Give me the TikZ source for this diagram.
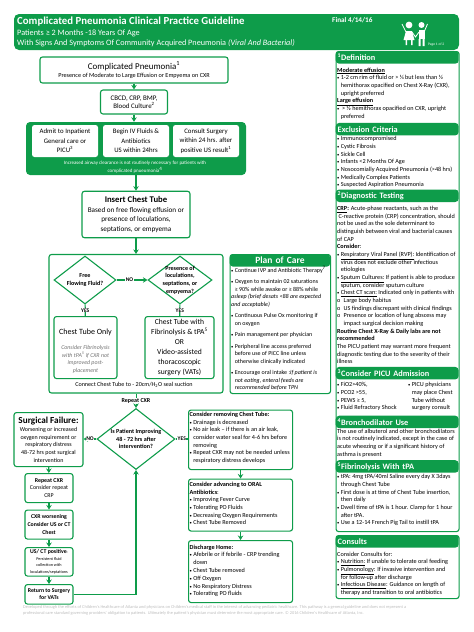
\documentclass[tikz,border=0pt]{standalone}
\usepackage{fontspec}
\setmainfont{Carlito}
\usetikzlibrary{arrows.meta,positioning,shapes.geometric}
\definecolor{cpgreen}{HTML}{0E9C4A}
\definecolor{footgray}{HTML}{BDBDBD}
\newcommand{\fsz}[2]{\fontsize{#1}{#2}\selectfont}
\newcommand{\bu}{\makebox[3.6pt][l]{\fontsize{4.6}{5}\selectfont\textbullet}}
\newcommand{\ci}{\makebox[6.5pt][l]{o}}
\newcommand{\hng}{\hspace*{3.6pt}}
\tikzset{
    flowbox/.style={draw=cpgreen,line width=1.1pt,rounded corners=2.5pt,fill=white,align=center,inner sep=0pt,font=\fsz{6.9}{7.7}},
    whitebox/.style={fill=white,rounded corners=2.5pt,align=center,inner sep=0pt,font=\fsz{6.8}{9.6}},
    listbox/.style={draw=cpgreen,line width=1.1pt,rounded corners=2.5pt,fill=white},
    sechead/.style={fill=cpgreen,rounded corners=3.5pt,text=white,inner sep=0pt,minimum width=123pt,minimum height=12.5pt,text width=119pt,align=left,font=\bfseries\fsz{8.3}{9}},
    mytext/.style={anchor=north west,inner sep=0pt,align=left,font=\fsz{6.2}{7.67}},
    decide/.style={diamond,draw=cpgreen,line width=1.1pt,inner sep=0pt},
    decidetxt/.style={inner sep=0pt,align=center,font=\bfseries\fsz{6.1}{7.6}},
    myarrow/.style={draw=cpgreen,line width=1.2pt,-{Stealth[length=4.5pt,width=5.5pt]}},
    myline/.style={draw=cpgreen,line width=1.1pt},
    answer/.style={fill=white,inner sep=0.4pt,font=\bfseries\fsz{5.6}{7}}
}
\begin{document}
\begin{tikzpicture}[x=1pt,y=-1pt]
  \useasboundingbox (0,0) rectangle (474,632);

  % header band
  \fill[cpgreen,rounded corners=5pt] (14,14) rectangle (459,50);
  \node[anchor=west,inner sep=0pt,text=white,font=\bfseries\fsz{10.8}{12}] (title) at (17,21.5) {Complicated Pneumonia Clinical Practice Guideline};
  \node[anchor=west,inner sep=0pt,text=white,font=\fsz{8.2}{9}] (age) at (17,33) {Patients ≥ 2 Months -18 Years Of Age};
  \node[anchor=west,inner sep=0pt,text=white,font=\fsz{8.2}{9}] (signs) at (17,43.5) {With Signs And Symptoms Of Community Acquired Pneumonia \textit{(Viral And Bacterial)}};
  \node[anchor=west,inner sep=0pt,text=white,font=\bfseries\fsz{7.2}{8}] (final) at (332,20.5) {Final 4/14/16};
  \node[anchor=west,inner sep=0pt,text=white,font=\fsz{3.6}{4}] (pagenum) at (428,45) {Page 1 of 2};
  % the two kids
  \fill[white] (409,25) circle (3.4);
  \fill[white] (421.5,25) circle (3);
  \fill[white] (406,31) -- (412,31) -- (414.5,40) -- (403.5,40) -- cycle;
  \fill[white] (418.5,30) rectangle (424.5,39);
  \fill[white] (405.5,40) rectangle (407,45) (411,40) rectangle (412.5,45);
  \fill[white] (418.5,39) rectangle (420.5,46) (422.5,39) rectangle (424.5,46);
  \draw[white,line width=0.8pt] (406,32) -- (402,24) (412,32) -- (415.5,37) -- (419,32) (424.5,31) -- (427.5,24);

  % left flow
  \node[flowbox,minimum width=188pt,minimum height=26pt] (pneu) at (134,70) {{\fsz{8.9}{10}Complicated Pneumonia\textsuperscript{1}}\\[0.6pt]{\fsz{6.2}{7.5}Presence of Moderate to Large Effusion or Empyema on CXR}};
  \node[flowbox,minimum width=67pt,minimum height=24pt] (labs) at (134,102) {\fsz{7}{9.6}CBCD, CRP, BMP,\\Blood Culture\textsuperscript{2}};
  \node[fill=cpgreen,rounded corners=4pt,minimum width=220pt,minimum height=53pt,inner sep=0pt] (band) at (136,148.5) {};
  \node[whitebox,minimum width=66pt,minimum height=32pt] (admit) at (65,141) {Admit to Inpatient\\General care or\\PICU\textsuperscript{3}};
  \node[whitebox,minimum width=66pt,minimum height=32pt] (fluids) at (136,141) {Begin IV Fluids \&\\Antibiotics\\US within 24hrs};
  \node[whitebox,minimum width=66pt,minimum height=32pt] (surg) at (206,141) {Consult Surgery\\within 24 hrs. after\\positive US result\textsuperscript{1}};
  \node[inner sep=0pt,align=center,text=white,font=\fsz{5}{8}] (airway) at (135,167) {Increased airway clearance is not routinely necessary for patients with\\complicated pnueumonia\textsuperscript{4}};
  \node[flowbox,minimum width=108pt,minimum height=46.5pt,font=\fsz{7.2}{9.7}] (tube) at (136,214.5) {{\bfseries\fsz{8.7}{10}Insert Chest Tube}\\Based on free flowing effusion or\\presence of loculations,\\septations, or empyema};
  \node[listbox,fill=none,minimum width=174pt,minimum height=138.5pt] (bigbox) at (136,323.75) {};
  \draw[myarrow] (pneu) -- (labs);
  \draw[myarrow] (labs) -- (labs |- band.north);
  \draw[myarrow] (band.south -| tube) -- (tube);
  \draw[myarrow] (tube) -- (bigbox);
  \node[decide,minimum width=62pt,minimum height=48pt,label={[decidetxt]center:{Free\\Flowing Fluid?}}] (free) at (85,280) {};
  \node[decide,minimum width=64pt,minimum height=48pt,label={[decidetxt]center:{Presence of\\loculations,\\septations, or\\empyema?}}] (locs) at (180,280) {};
  \draw[myarrow] (free) -- node[answer,pos=0.42] {NO} (locs);
  \node[flowbox,minimum width=63pt,minimum height=62pt,anchor=north] (only) at (85.5,316) {};
  \node[inner sep=0pt,font=\fsz{8}{10}] (onlytxt) at (85.5,332) {Chest Tube Only};
  \node[inner sep=0pt,align=center,text=black!55,font=\itshape\fsz{5.9}{7.67}] (onlynote) at (85.5,359.5) {Consider Fibrinolysis\\with tPA\textsuperscript{5} if CXR not\\improved post-\\placement};
  \node[flowbox,minimum width=69pt,minimum height=62pt,anchor=north,font=\fsz{7.6}{9.9}] (vats) at (179.5,316) {Chest Tube with\\Fibrinolysis \& tPA\textsuperscript{5}\\OR\\Video-assisted\\thoracoscopic\\surgery (VATs)};
  \draw[myline] (free) -- node[answer,pos=0.5] {YES} (only);
  \draw[myline] (locs) -- node[answer,pos=0.5] {YES} (vats);
  \node[inner sep=0pt,font=\fsz{6.1}{8}] (connect) at (134,385) {Connect Chest Tube to - 20cm/H\textsubscript{2}O seal suction};

  % second decision
  \node[decide,minimum width=78pt,minimum height=61pt,label={[decidetxt]center:{Is Patient Improving\\48 - 72 hrs after\\intervention?}}] (better) at (136,439) {};
  \node[inner sep=0pt,font=\bfseries\fsz{6}{7}] (repeat) at (136,401) {Repeat CXR};
  \draw[myline,line width=0.6pt] (bigbox.south) -- (repeat);
  \draw[myarrow,line width=0.6pt] (repeat) -- (better);
  \node[flowbox,minimum width=69pt,minimum height=54pt,anchor=north,font=\fsz{6}{7.6}] (fail) at (48.5,412) {{\bfseries\fsz{9.2}{10}Surgical Failure:}\\[0.5pt]Worsening or increased\\oxygen requirement  or\\respiratory distress\\48-72 hrs post surgical\\intervention};
  \node[flowbox,minimum width=48pt,minimum height=29pt,anchor=north,font=\fsz{5.9}{7.6}] (cxr) at (49,473) {\textbf{Repeat CXR}\\Consider repeat\\CRP};
  \node[flowbox,minimum width=48pt,minimum height=29pt,anchor=north,font=\bfseries\fsz{5.8}{7.6}] (worse) at (49,509.5) {CXR worsening\\Consider US or CT\\Chest};
  \node[flowbox,minimum width=48pt,minimum height=28.5pt,anchor=north,font=\fsz{4.2}{6.4}] (usct) at (49,547) {{\bfseries\fsz{5.8}{7}US/ CT positive}:\\Persistent fluid\\collection with\\loculations/septations};
  \node[flowbox,minimum width=48pt,minimum height=19.5pt,anchor=north,font=\bfseries\fsz{5.8}{7.6}] (vatsback) at (49,584) {Return to Surgery\\for VATs};
  \draw[myarrow] (better) -- node[answer,pos=0.5] {NO} (fail.east |- better);
  \draw[myarrow] (fail) -- (cxr);
  \draw[myarrow] (cxr) -- (worse);
  \draw[myarrow] (worse) -- (usct);
  \draw[myarrow] (usct) -- (vatsback);
  \draw[myarrow] (vatsback.east) -| (better.south);

  % right branch of the second decision
  \node[listbox,minimum width=104pt,minimum height=59.5pt,anchor=north west] (remove) at (188,409.5) {};
  \node[listbox,minimum width=104pt,minimum height=52pt,anchor=north west] (oral) at (188,478.5) {};
  \node[listbox,minimum width=104pt,minimum height=62pt,anchor=north west] (home) at (188,540) {};
  \draw[myline] (better) -- node[answer,pos=0.5] {YES} (remove.west |- better);
  \draw[myarrow] (remove) -- (oral);
  \draw[myarrow] (oral) -- (home);
  \node[mytext] (removetxt) at (189.5,412) {\textbf{Consider removing Chest Tube:}\\\bu Drainage is  decreased\\\bu No air leak -- if there is an air leak,\\\hng consider water seal for 4-6 hrs before\\\hng removing\\\bu Repeat CXR may not be needed unless\\\hng respiratory distress develops};
  \node[mytext] (oraltxt) at (189.5,482) {\textbf{Consider advancing to ORAL}\\\textbf{Antibiotics}:\\\bu Improving  Fever Curve\\\bu Tolerating PO  Fluids\\\bu Decreasing Oxygen Requirements\\\bu Chest Tube Removed};
  \node[mytext,font=\fsz{6.2}{7.8}] (hometxt) at (189.5,544.5) {\textbf{Discharge Home:}\\\bu Afebrile or if febrile - CRP trending\\\hng down\\\bu Chest Tube removed\\\bu Off Oxygen\\\bu No Respiratory Distress\\\bu Tolerating PO fluids};

  % plan of care
  \node[listbox,minimum width=100.5pt,minimum height=139pt,anchor=north west] (plan) at (229.5,254) {};
  \node[sechead,minimum width=100.5pt,text width=100.5pt,align=center,anchor=north west,font=\bfseries\fsz{9.5}{10}] (planhead) at (229.5,254) {Plan of Care};
  \node[mytext,font=\fsz{6}{7.6}] (plantxt) at (231,266.5) {\bu Continue IVP and Antibiotic Therapy\textsuperscript{7}\\[3.7pt]\bu Oxygen to maintain 02 saturations\\\hng≥ 90\% while awake or ≥ 88\% while\\\textit{asleep (brief desats <88 are expected}\\\textit{and acceptable)}\\[3.7pt]\bu Continuous Pulse Ox monitoring if\\\hng on oxygen\\[3.7pt]\bu Pain management per physician\\[3.7pt]\bu Peripheral line access preferred\\\hng before use of PICC line unless\\\hng otherwise clinically indicated\\[3.7pt]\bu Encourage oral intake :\textit{if patient is}\\\hng\textit{not eating, enteral feeds are}\\\hng\textit{recommended  before TPN}};

  % right column
  \node[listbox,minimum width=123pt,minimum height=480pt,anchor=north west] (sidebar) at (335.5,51) {};
  \node[sechead,anchor=north west] (defhead) at (335.5,51) {\textsuperscript{1}Definition};
  \node[sechead,anchor=north west] (exhead) at (335.5,122.7) {Exclusion Criteria};
  \node[sechead,anchor=north west] (diaghead) at (335.5,189.3) {\textsuperscript{2}Diagnostic Testing};
  \node[sechead,anchor=north west] (picuhead) at (335.5,366.7) {\textsuperscript{3}Consider PICU Admission};
  \node[sechead,anchor=north west] (bronchhead) at (335.5,415.5) {\textsuperscript{4}Bronchodilator Use};
  \node[sechead,anchor=north west] (fibhead) at (335.5,460) {\textsuperscript{5}Fibrinolysis With tPA};
  \node[listbox,minimum width=123pt,minimum height=63pt,anchor=north west] (conbox) at (335.5,535) {};
  \node[sechead,anchor=north west] (conhead) at (335.5,535) {Consults};

  \node[mytext] (deftxt) at (337,67.5) {\textbf{\underline{Moderate effusion}}\\\bu 1-2 cm rim of fluid or > ¼ but less than ½\\\hng hemithorax opacified on Chest X-Ray (CXR),\\\hng upright preferred\\\textbf{\underline{Large effusion}}\\\bu\ > ½ hemithorax opacified on CXR, upright\\\hng preferred};
  \node[mytext] (extxt) at (337,136.2) {\bu Immunocompromised\\\bu Cystic Fibrosis\\\bu Sickle Cell\\\bu Infants <2 Months Of Age\\\bu Nosocomially Acquired Pneumonia (>48 hrs)\\\bu Medically Complex Patients\\\bu Suspected Aspiration Pneumonia};
  \node[mytext] (diagtxt) at (337,206) {\textbf{\underline{CRP}:} Acute-phase reactants, such as the\\\ C-reactive protein (CRP) concentration, should\\not be used as the sole determinant to\\distinguish between viral and bacterial causes\\of CAP\\\textbf{Consider}:\\\bu\underline{Respiratory Viral Panel (RVP):} Identification of\\\hng virus does not exclude other infectious\\\hng etiologies\\\bu\underline{Sputum Cultures:} If patient is able to produce\\\hng sputum, consider sputum culture\\\bu\underline{Chest CT scan:} Indicated only in patients with\\\ci Large body habitus\\\ci US findings discrepant with clinical findings\\\ci Presence or location of lung abscess may\\\hspace*{6.5pt}impact surgical decision making\\\textbf{Routine Chest X-Ray \& Daily labs are not}\\\textbf{recommended}\\The PICU patient may warrant more frequent\\diagnostic testing due to the severity of their\\illness};
  \node[mytext] (picutxt) at (337,382.2) {\bu FiO2>40\%,\\\bu PCO2 >55,\\\bu PEWS  ≥ 5,\\\bu Fluid Refractory Shock};
  \node[mytext] (picunote) at (408,382.2) {\bu PICU physicians\\\hng may place Chest\\\hng Tube without\\\hng surgery consult};
  \node[mytext] (bronchtxt) at (337,428.7) {The use of albuterol and other bronchodilators\\is not routinely indicated, except in the case of\\acute wheezing or if a significant history of\\asthma is present};
  \node[mytext] (fibtxt) at (337,474.3) {\bu tPA: 4mg tPA/40ml Saline every day X 3days\\\hng through Chest Tube\\\bu First dose is at time of Chest Tube insertion,\\\hng then daily\\\bu Dwell time of tPA is 1 hour. Clamp for 1 hour\\\hng after tPA.\\\bu Use a 12-14 French Pig Tail to instill tPA};
  \node[mytext] (context) at (337,551.7) {Consider Consults for:\\\bu\underline{Nutrition:}  If unable to tolerate oral feeding\\\bu\underline{Pulmonology}:  If invasive intervention and\\\hng for follow-up after discharge\\\bu\underline{Infectious Disease}: Guidance on length of\\\hng therapy and transition to oral antibiotics};

  % footer
  \node[mytext,text=footgray,font=\fsz{4.35}{6.3}] (foot) at (23,604.8) {Developed through the efforts of Children's Healthcare of Atlanta and physicians on Children's medical staff in the interest of advancing pediatric healthcare.  This pathway is a general guideline and does not represent a\\professional care standard governing providers' obligation to patients.  Ultimately the patient's physician must determine the most appropriate care.  © 2016 Children's Healthcare of Atlanta, Inc.};
\end{tikzpicture}
\end{document}
